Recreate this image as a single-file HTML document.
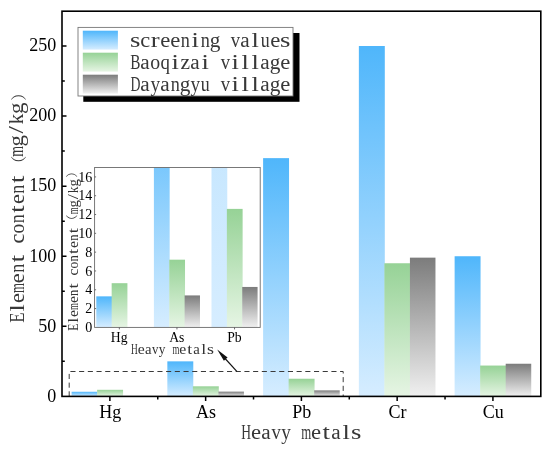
<!DOCTYPE html>
<html lang="en"><head><meta charset="utf-8"><title>Heavy metals element content</title>
<style>html,body{margin:0;padding:0;background:#fff}body{width:550px;height:451px;overflow:hidden}</style>
</head><body>
<svg width="550" height="451" viewBox="0 0 550 451" style="display:block">
<defs>
<linearGradient id="gb" x1="0" y1="0" x2="0" y2="1"><stop offset="0" stop-color="#4fb6fb"/><stop offset="1" stop-color="#d6edff"/></linearGradient>
<linearGradient id="gg" x1="0" y1="0" x2="0" y2="1"><stop offset="0" stop-color="#96d296"/><stop offset="1" stop-color="#e6f5e4"/></linearGradient>
<linearGradient id="gk" x1="0" y1="0" x2="0" y2="1"><stop offset="0" stop-color="#7c7c7c"/><stop offset="1" stop-color="#f0f0f0"/></linearGradient>
<clipPath id="ic"><rect x="94.6" y="167.5" width="165.6" height="159.9"/></clipPath>
</defs>
<rect width="550" height="451" fill="#fff"/>
<g>
<rect x="71.58" y="391.77" width="25.94" height="4.63" fill="url(#gb)"/>
<rect x="97.11" y="389.81" width="25.94" height="6.59" fill="url(#gg)"/>
<rect x="167.34" y="361.36" width="25.94" height="35.04" fill="url(#gb)"/>
<rect x="192.87" y="386.31" width="25.94" height="10.09" fill="url(#gg)"/>
<rect x="218.41" y="391.63" width="25.54" height="4.77" fill="url(#gk)"/>
<rect x="263.10" y="158.13" width="25.94" height="238.27" fill="url(#gb)"/>
<rect x="288.63" y="378.74" width="25.94" height="17.66" fill="url(#gg)"/>
<rect x="314.17" y="390.37" width="25.54" height="6.03" fill="url(#gk)"/>
<rect x="358.86" y="46.00" width="25.94" height="350.40" fill="url(#gb)"/>
<rect x="384.39" y="263.25" width="25.94" height="133.15" fill="url(#gg)"/>
<rect x="409.93" y="257.64" width="25.54" height="138.76" fill="url(#gk)"/>
<rect x="454.62" y="256.24" width="25.94" height="140.16" fill="url(#gb)"/>
<rect x="480.15" y="365.56" width="25.94" height="30.84" fill="url(#gg)"/>
<rect x="505.69" y="363.74" width="25.54" height="32.66" fill="url(#gk)"/>
</g>
<path d="M69.2 396.4V371.5H343.2V396.4" fill="none" stroke="#3a3a3a" stroke-width="1" stroke-dasharray="5.1 3.6"/>
<rect x="62.00" y="11.20" width="478.80" height="385.20" fill="none" stroke="#000" stroke-width="1.6"/>
<path d="M62.00 361.36h2.80M62.00 326.32h4.50M62.00 291.28h2.80M62.00 256.24h4.50M62.00 221.20h2.80M62.00 186.16h4.50M62.00 151.12h2.80M62.00 116.08h4.50M62.00 81.04h2.80M62.00 46.00h4.50M109.88 396.40v4.6M157.76 396.40v3.0M205.64 396.40v4.6M253.52 396.40v3.0M301.40 396.40v4.6M349.28 396.40v3.0M397.16 396.40v4.6M445.04 396.40v3.0M492.92 396.40v4.6" stroke="#000" stroke-width="1.5" fill="none"/>
<g font-family="'Liberation Serif', serif" font-size="18" fill="#000">
<text x="56.3" y="401.70" text-anchor="end">0</text>
<text x="56.3" y="331.62" text-anchor="end">50</text>
<text x="56.3" y="261.54" text-anchor="end">100</text>
<text x="56.3" y="191.46" text-anchor="end">150</text>
<text x="56.3" y="121.38" text-anchor="end">200</text>
<text x="56.3" y="51.30" text-anchor="end">250</text>
<text x="110.18" y="417.8" text-anchor="middle">Hg</text>
<text x="205.94" y="417.8" text-anchor="middle">As</text>
<text x="301.70" y="417.8" text-anchor="middle">Pb</text>
<text x="397.46" y="417.8" text-anchor="middle">Cr</text>
<text x="493.22" y="417.8" text-anchor="middle">Cu</text>
</g>
<g font-family="'Liberation Serif', 'Noto Serif CJK SC', serif">
<text font-size="20.50" text-anchor="middle" fill="#383838" xml:space="preserve"><tspan x="246.20" y="439.30" textLength="9.79" lengthAdjust="spacingAndGlyphs">H</tspan><tspan x="256.15" y="439.30" textLength="10.07" lengthAdjust="spacingAndGlyphs">e</tspan><tspan x="265.97" y="439.30" textLength="9.44" lengthAdjust="spacingAndGlyphs">a</tspan><tspan x="276.20" y="439.30" textLength="9.30" lengthAdjust="spacingAndGlyphs">v</tspan><tspan x="286.12" y="439.30" textLength="9.61" lengthAdjust="spacingAndGlyphs">y</tspan><tspan x="296.20" y="439.30"> </tspan><tspan x="306.17" y="439.30" textLength="9.97" lengthAdjust="spacingAndGlyphs">m</tspan><tspan x="316.15" y="439.30" textLength="10.07" lengthAdjust="spacingAndGlyphs">e</tspan><tspan x="326.15" y="439.30" textLength="7.40" lengthAdjust="spacingAndGlyphs">t</tspan><tspan x="335.97" y="439.30" textLength="9.44" lengthAdjust="spacingAndGlyphs">a</tspan><tspan x="346.20" y="439.30" textLength="7.40" lengthAdjust="spacingAndGlyphs">l</tspan><tspan x="356.13" y="439.30" textLength="10.37" lengthAdjust="spacingAndGlyphs">s</tspan></text>
<g transform="translate(23.60 322.75) rotate(-90)"><text font-size="20.50" text-anchor="middle" fill="#383838" xml:space="preserve"><tspan x="5.13" y="0.00" textLength="10.23" lengthAdjust="spacingAndGlyphs">E</tspan><tspan x="14.85" y="0.00" textLength="7.40" lengthAdjust="spacingAndGlyphs">l</tspan><tspan x="24.70" y="0.00" textLength="9.97" lengthAdjust="spacingAndGlyphs">e</tspan><tspan x="34.62" y="0.00" textLength="9.87" lengthAdjust="spacingAndGlyphs">m</tspan><tspan x="44.50" y="0.00" textLength="9.97" lengthAdjust="spacingAndGlyphs">e</tspan><tspan x="54.38" y="0.00" textLength="9.00" lengthAdjust="spacingAndGlyphs">n</tspan><tspan x="64.30" y="0.00" textLength="7.40" lengthAdjust="spacingAndGlyphs">t</tspan><tspan x="74.25" y="0.00"> </tspan><tspan x="84.07" y="0.00" textLength="9.84" lengthAdjust="spacingAndGlyphs">c</tspan><tspan x="94.05" y="0.00" textLength="9.81" lengthAdjust="spacingAndGlyphs">o</tspan><tspan x="103.88" y="0.00" textLength="9.00" lengthAdjust="spacingAndGlyphs">n</tspan><tspan x="113.80" y="0.00" textLength="7.40" lengthAdjust="spacingAndGlyphs">t</tspan><tspan x="123.70" y="0.00" textLength="9.97" lengthAdjust="spacingAndGlyphs">e</tspan><tspan x="133.58" y="0.00" textLength="9.00" lengthAdjust="spacingAndGlyphs">n</tspan><tspan x="143.50" y="0.00" textLength="7.40" lengthAdjust="spacingAndGlyphs">t</tspan><tspan x="158.91" y="0.60" font-size="16.00">（</tspan><tspan x="171.31" y="-1.00" textLength="10.82" lengthAdjust="spacingAndGlyphs">m</tspan><tspan x="181.92" y="-1.00" textLength="11.52" lengthAdjust="spacingAndGlyphs">g</tspan><tspan x="193.05" y="-1.00" textLength="7.40" lengthAdjust="spacingAndGlyphs">/</tspan><tspan x="203.70" y="-1.00" textLength="10.49" lengthAdjust="spacingAndGlyphs">k</tspan><tspan x="214.47" y="-1.00" textLength="11.52" lengthAdjust="spacingAndGlyphs">g</tspan><tspan x="230.09" y="0.60" font-size="16.00">）</tspan></text></g>
</g>
<rect x="94.60" y="167.50" width="165.60" height="159.90" fill="#fff"/>
<g clip-path="url(#ic)">
<rect x="96.30" y="296.36" width="15.76" height="31.04" fill="url(#gb)"/>
<rect x="111.66" y="283.19" width="15.76" height="44.21" fill="url(#gg)"/>
<rect x="153.90" y="92.25" width="15.76" height="235.15" fill="url(#gb)"/>
<rect x="169.26" y="259.68" width="15.76" height="67.72" fill="url(#gg)"/>
<rect x="184.62" y="295.42" width="15.36" height="31.98" fill="url(#gk)"/>
<rect x="211.50" y="-1271.60" width="15.76" height="1599.00" fill="url(#gb)"/>
<rect x="226.86" y="208.89" width="15.76" height="118.51" fill="url(#gg)"/>
<rect x="242.22" y="286.95" width="15.36" height="40.45" fill="url(#gk)"/>
</g>
<rect x="94.60" y="167.50" width="165.60" height="159.90" fill="none" stroke="#6a6a6a" stroke-width="0.9"/>
<path d="M94.60 308.59h1.5M94.60 289.78h1.5M94.60 270.96h1.5M94.60 252.15h1.5M94.60 233.34h1.5M94.60 214.53h1.5M94.60 195.72h1.5M94.60 176.91h1.5M119.34 327.40v2M176.94 327.40v2M234.54 327.40v2" stroke="#5a5a5a" stroke-width="0.9" fill="none"/>
<g font-family="'Liberation Serif', serif" font-size="14" fill="#000">
<text x="92.3" y="332.10" text-anchor="end">0</text>
<text x="92.3" y="313.29" text-anchor="end">2</text>
<text x="92.3" y="294.48" text-anchor="end">4</text>
<text x="92.3" y="275.66" text-anchor="end">6</text>
<text x="92.3" y="256.85" text-anchor="end">8</text>
<text x="92.3" y="238.04" text-anchor="end">10</text>
<text x="92.3" y="219.23" text-anchor="end">12</text>
<text x="92.3" y="200.42" text-anchor="end">14</text>
<text x="92.3" y="181.61" text-anchor="end">16</text>
<text x="119.24" y="341.5" font-size="13.7" text-anchor="middle">Hg</text>
<text x="176.84" y="341.5" font-size="13.7" text-anchor="middle">As</text>
<text x="234.44" y="341.5" font-size="13.7" text-anchor="middle">Pb</text>
</g>
<g font-family="'Liberation Serif', 'Noto Serif CJK SC', serif">
<text font-size="13.80" text-anchor="middle" fill="#333" xml:space="preserve"><tspan x="134.46" y="353.70" textLength="6.77" lengthAdjust="spacingAndGlyphs">H</tspan><tspan x="141.35" y="353.70" textLength="6.97" lengthAdjust="spacingAndGlyphs">e</tspan><tspan x="148.14" y="353.70" textLength="6.53" lengthAdjust="spacingAndGlyphs">a</tspan><tspan x="155.22" y="353.70" textLength="6.44" lengthAdjust="spacingAndGlyphs">v</tspan><tspan x="162.08" y="353.70" textLength="6.65" lengthAdjust="spacingAndGlyphs">y</tspan><tspan x="169.06" y="353.70"> </tspan><tspan x="175.96" y="353.70" textLength="6.90" lengthAdjust="spacingAndGlyphs">m</tspan><tspan x="182.87" y="353.70" textLength="6.97" lengthAdjust="spacingAndGlyphs">e</tspan><tspan x="189.78" y="353.70" textLength="4.98" lengthAdjust="spacingAndGlyphs">t</tspan><tspan x="196.58" y="353.70" textLength="6.53" lengthAdjust="spacingAndGlyphs">a</tspan><tspan x="203.66" y="353.70" textLength="4.98" lengthAdjust="spacingAndGlyphs">l</tspan><tspan x="210.54" y="353.70" textLength="6.98" lengthAdjust="spacingAndGlyphs">s</tspan></text>
<g transform="translate(78 330.65) rotate(-90)"><text font-size="14.00" text-anchor="middle" fill="#333" xml:space="preserve"><tspan x="3.57" y="0.00" textLength="7.13" lengthAdjust="spacingAndGlyphs">E</tspan><tspan x="10.35" y="0.00" textLength="5.06" lengthAdjust="spacingAndGlyphs">l</tspan><tspan x="17.22" y="0.00" textLength="6.95" lengthAdjust="spacingAndGlyphs">e</tspan><tspan x="24.13" y="0.00" textLength="6.88" lengthAdjust="spacingAndGlyphs">m</tspan><tspan x="31.02" y="0.00" textLength="6.95" lengthAdjust="spacingAndGlyphs">e</tspan><tspan x="37.90" y="0.00" textLength="6.27" lengthAdjust="spacingAndGlyphs">n</tspan><tspan x="44.81" y="0.00" textLength="5.06" lengthAdjust="spacingAndGlyphs">t</tspan><tspan x="51.75" y="0.00"> </tspan><tspan x="58.59" y="0.00" textLength="6.86" lengthAdjust="spacingAndGlyphs">c</tspan><tspan x="65.55" y="0.00" textLength="6.84" lengthAdjust="spacingAndGlyphs">o</tspan><tspan x="72.40" y="0.00" textLength="6.27" lengthAdjust="spacingAndGlyphs">n</tspan><tspan x="79.31" y="0.00" textLength="5.06" lengthAdjust="spacingAndGlyphs">t</tspan><tspan x="86.22" y="0.00" textLength="6.95" lengthAdjust="spacingAndGlyphs">e</tspan><tspan x="93.10" y="0.00" textLength="6.27" lengthAdjust="spacingAndGlyphs">n</tspan><tspan x="100.01" y="0.00" textLength="5.06" lengthAdjust="spacingAndGlyphs">t</tspan><tspan x="110.17" y="-0.90" font-size="12.00">（</tspan><tspan x="119.93" y="-0.50" textLength="7.01" lengthAdjust="spacingAndGlyphs">m</tspan><tspan x="126.80" y="-0.50" textLength="7.46" lengthAdjust="spacingAndGlyphs">g</tspan><tspan x="134.01" y="-0.50" textLength="5.06" lengthAdjust="spacingAndGlyphs">/</tspan><tspan x="140.91" y="-0.50" textLength="6.80" lengthAdjust="spacingAndGlyphs">k</tspan><tspan x="147.89" y="-0.50" textLength="7.46" lengthAdjust="spacingAndGlyphs">g</tspan><tspan x="159.03" y="-0.90" font-size="12.00">）</tspan></text></g>
</g>
<path d="M236.8 371.3L221 354" stroke="#111" stroke-width="1.2" fill="none"/>
<path d="M217.2 349.6L227.6 357.4L223.9 360.8Z" fill="#111"/>
<rect x="83.3" y="33" width="216.2" height="68.8" fill="#000"/>
<rect x="78" y="27.4" width="215" height="68.6" fill="#fff" stroke="#777" stroke-width="0.9"/>
<rect x="82.8" y="30.70" width="35.1" height="18.9" fill="url(#gb)"/>
<rect x="82.8" y="52.70" width="35.1" height="18.9" fill="url(#gg)"/>
<rect x="82.8" y="74.70" width="35.1" height="18.9" fill="url(#gk)"/>
<g font-family="'Liberation Serif', serif">
<text font-size="20.50" text-anchor="middle" fill="#383838" xml:space="preserve"><tspan x="135.23" y="47.00" textLength="10.37" lengthAdjust="spacingAndGlyphs">s</tspan><tspan x="145.22" y="47.00" textLength="9.94" lengthAdjust="spacingAndGlyphs">c</tspan><tspan x="155.15" y="47.00" textLength="8.87" lengthAdjust="spacingAndGlyphs">r</tspan><tspan x="165.25" y="47.00" textLength="10.07" lengthAdjust="spacingAndGlyphs">e</tspan><tspan x="175.25" y="47.00" textLength="10.07" lengthAdjust="spacingAndGlyphs">e</tspan><tspan x="185.23" y="47.00" textLength="9.09" lengthAdjust="spacingAndGlyphs">n</tspan><tspan x="195.27" y="47.00" textLength="7.40" lengthAdjust="spacingAndGlyphs">i</tspan><tspan x="205.23" y="47.00" textLength="9.09" lengthAdjust="spacingAndGlyphs">n</tspan><tspan x="215.05" y="47.00" textLength="10.62" lengthAdjust="spacingAndGlyphs">g</tspan><tspan x="225.30" y="47.00"> </tspan><tspan x="235.30" y="47.00" textLength="9.30" lengthAdjust="spacingAndGlyphs">v</tspan><tspan x="245.07" y="47.00" textLength="9.44" lengthAdjust="spacingAndGlyphs">a</tspan><tspan x="255.30" y="47.00" textLength="7.40" lengthAdjust="spacingAndGlyphs">l</tspan><tspan x="265.33" y="47.00" textLength="8.94" lengthAdjust="spacingAndGlyphs">u</tspan><tspan x="275.25" y="47.00" textLength="10.07" lengthAdjust="spacingAndGlyphs">e</tspan><tspan x="285.23" y="47.00" textLength="10.37" lengthAdjust="spacingAndGlyphs">s</tspan></text>
<text font-size="20.50" text-anchor="middle" fill="#383838" xml:space="preserve"><tspan x="135.45" y="69.10" textLength="10.19" lengthAdjust="spacingAndGlyphs">B</tspan><tspan x="145.07" y="69.10" textLength="9.44" lengthAdjust="spacingAndGlyphs">a</tspan><tspan x="155.30" y="69.10" textLength="9.91" lengthAdjust="spacingAndGlyphs">o</tspan><tspan x="165.13" y="69.10" textLength="9.42" lengthAdjust="spacingAndGlyphs">q</tspan><tspan x="175.27" y="69.10" textLength="7.40" lengthAdjust="spacingAndGlyphs">i</tspan><tspan x="185.31" y="69.10" textLength="9.58" lengthAdjust="spacingAndGlyphs">z</tspan><tspan x="195.07" y="69.10" textLength="9.44" lengthAdjust="spacingAndGlyphs">a</tspan><tspan x="205.27" y="69.10" textLength="7.40" lengthAdjust="spacingAndGlyphs">i</tspan><tspan x="215.30" y="69.10"> </tspan><tspan x="225.30" y="69.10" textLength="9.30" lengthAdjust="spacingAndGlyphs">v</tspan><tspan x="235.27" y="69.10" textLength="7.40" lengthAdjust="spacingAndGlyphs">i</tspan><tspan x="245.30" y="69.10" textLength="7.40" lengthAdjust="spacingAndGlyphs">l</tspan><tspan x="255.30" y="69.10" textLength="7.40" lengthAdjust="spacingAndGlyphs">l</tspan><tspan x="265.07" y="69.10" textLength="9.44" lengthAdjust="spacingAndGlyphs">a</tspan><tspan x="275.05" y="69.10" textLength="10.62" lengthAdjust="spacingAndGlyphs">g</tspan><tspan x="285.25" y="69.10" textLength="10.07" lengthAdjust="spacingAndGlyphs">e</tspan></text>
<text font-size="20.50" text-anchor="middle" fill="#383838" xml:space="preserve"><tspan x="135.38" y="91.20" textLength="9.95" lengthAdjust="spacingAndGlyphs">D</tspan><tspan x="145.07" y="91.20" textLength="9.44" lengthAdjust="spacingAndGlyphs">a</tspan><tspan x="155.22" y="91.20" textLength="9.61" lengthAdjust="spacingAndGlyphs">y</tspan><tspan x="165.07" y="91.20" textLength="9.44" lengthAdjust="spacingAndGlyphs">a</tspan><tspan x="175.23" y="91.20" textLength="9.09" lengthAdjust="spacingAndGlyphs">n</tspan><tspan x="185.05" y="91.20" textLength="10.62" lengthAdjust="spacingAndGlyphs">g</tspan><tspan x="195.22" y="91.20" textLength="9.61" lengthAdjust="spacingAndGlyphs">y</tspan><tspan x="205.33" y="91.20" textLength="8.94" lengthAdjust="spacingAndGlyphs">u</tspan><tspan x="215.30" y="91.20"> </tspan><tspan x="225.30" y="91.20" textLength="9.30" lengthAdjust="spacingAndGlyphs">v</tspan><tspan x="235.27" y="91.20" textLength="7.40" lengthAdjust="spacingAndGlyphs">i</tspan><tspan x="245.30" y="91.20" textLength="7.40" lengthAdjust="spacingAndGlyphs">l</tspan><tspan x="255.30" y="91.20" textLength="7.40" lengthAdjust="spacingAndGlyphs">l</tspan><tspan x="265.07" y="91.20" textLength="9.44" lengthAdjust="spacingAndGlyphs">a</tspan><tspan x="275.05" y="91.20" textLength="10.62" lengthAdjust="spacingAndGlyphs">g</tspan><tspan x="285.25" y="91.20" textLength="10.07" lengthAdjust="spacingAndGlyphs">e</tspan></text>
</g>
</svg>
</body></html>
